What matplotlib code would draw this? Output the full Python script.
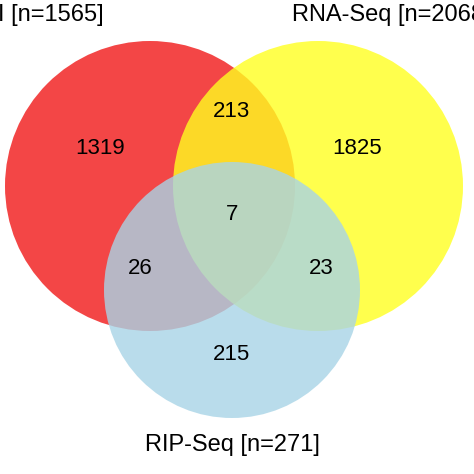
import matplotlib
matplotlib.use("Agg")
import matplotlib.pyplot as plt
from matplotlib.patches import Circle

plt.rcParams['font.family'] = ['Liberation Sans', 'DejaVu Sans']

set_labels = ["I [n=1565]", "RNA-Seq [n=2068]", "RIP-Seq [n=271]"]
region_labels = ["1319", "1825", "215", "213", "26", "23", "7"]

fig = plt.figure(figsize=(4.74, 4.74), dpi=100)
ax = fig.add_axes([0, 0, 1, 1])
ax.set_xlim(0, 474); ax.set_ylim(474, 0); ax.axis("off")

circles = [((150, 186), 145, "#f01818"), ((318, 186), 145, "#ffff20"), ((232, 290), 128, "#a8d4e6")]
for (c, r, col) in circles:
    ax.add_patch(Circle(c, r, facecolor=col, edgecolor="none", alpha=0.8))

pos = [(100, 148), (357, 148), (232, 355), (232, 111), (140, 268), (321, 268), (232, 214)]
for (x, y), t in zip(pos, region_labels):
    ax.text(x, y, t, ha="center", va="center", fontsize=16)

ax.text(-2, 15, set_labels[0], ha="left", va="center", fontsize=17)
ax.text(292, 15, set_labels[1], ha="left", va="center", fontsize=17)
ax.text(232, 445, set_labels[2], ha="center", va="center", fontsize=17)

fig.savefig("out.png", dpi=100)
